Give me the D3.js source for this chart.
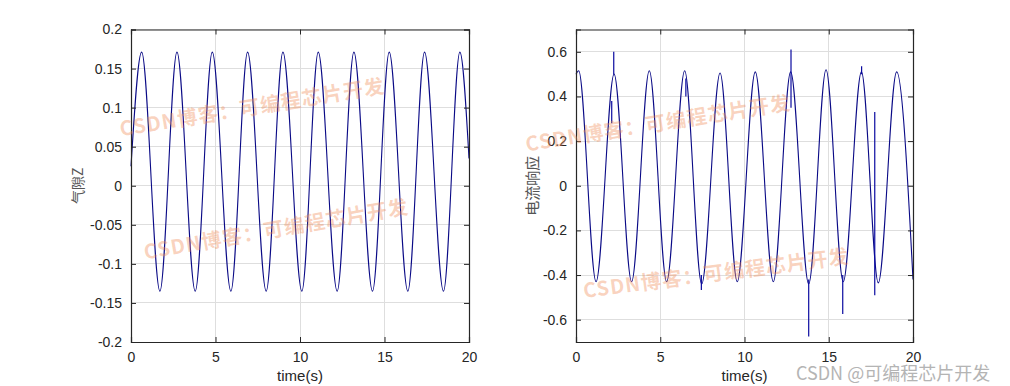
<!DOCTYPE html>
<html>
<head>
<meta charset="utf-8">
<script src="https://cdn.jsdelivr.net/npm/d3@7"></script>
<style>
  body{margin:0;background:#fff;}
  svg{display:block;font-family:"Liberation Sans",Arial,sans-serif;}
</style>
</head>
<body>
<div id="chart"></div>
<script>
// x axis (shared)
const xTicks = [0, 5, 10, 15, 20]

// left panel: 气隙Z, extrema (time s, value)
const gapT = [0, 0.63, 1.71, 2.72, 3.80, 4.81, 5.91, 6.90, 8.00, 8.99, 10.11, 11.08, 12.20, 13.19, 14.29, 15.28, 16.38, 17.37, 18.49, 19.46, 20]
const gapV = [0.025, 0.171, -0.135, 0.171, -0.135, 0.171, -0.135, 0.171, -0.135, 0.171, -0.135, 0.171, -0.135, 0.171, -0.135, 0.171, -0.135, 0.171, -0.135, 0.171, 0.035]
const gapTicks = [-0.2, -0.15, -0.1, -0.05, 0, 0.05, 0.1, 0.15, 0.2]

// right panel: 电流响应
const curT = [0, 0.16, 1.19, 2.26, 3.30, 4.35, 5.38, 6.45, 7.46, 8.55, 9.57, 10.64, 11.71, 12.74, 13.81, 14.84, 15.86, 16.94, 17.94, 19.03, 20]
const curV = [0.50, 0.515, -0.43, 0.50, -0.43, 0.515, -0.43, 0.515, -0.44, 0.505, -0.43, 0.51, -0.43, 0.51, -0.44, 0.52, -0.43, 0.51, -0.435, 0.51, -0.42]
const curTicks = [-0.6, -0.4, -0.2, 0, 0.2, 0.4, 0.6]
// spikes on the current signal
const spikeT = [2.24, 2.12, 6.52, 7.44, 12.76, 13.81, 15.83, 16.95, 17.73]
const spikeLo = [0.50, 0.28, 0.40, -0.467, 0.35, -0.675, -0.575, 0.50, -0.49]
const spikeHi = [0.60, 0.38, 0.48, -0.40, 0.61, -0.42, -0.40, 0.535, 0.33]

const W = 1010, H = 386
const svg = d3.select("#chart").append("svg").attr("width", W).attr("height", H)

function drawPanel(o){
  const x = d3.scaleLinear().domain([0, 20]).range([o.left, o.right])
  const y = d3.scaleLinear().domain(o.domain).range([o.bottom, o.top])
  const g = svg.append("g")

  // grid
  g.selectAll(".gx").data(xTicks).enter().append("line")
    .attr("x1", d => x(d)).attr("x2", d => x(d))
    .attr("y1", o.top).attr("y2", o.bottom)
    .attr("stroke", "#dedede").attr("stroke-width", 1).attr("shape-rendering", "crispEdges")
  g.selectAll(".gy").data(o.ticks).enter().append("line")
    .attr("x1", o.left).attr("x2", o.right)
    .attr("y1", d => y(d)).attr("y2", d => y(d))
    .attr("stroke", "#dedede").attr("stroke-width", 1).attr("shape-rendering", "crispEdges")

  // signal
  const line = d3.line().x(d => x(d[0])).y(d => y(d[1])).curve(d3.curveMonotoneX)
  const pts = o.t.map((t, i) => [t, o.v[i]])
  g.append("path").datum(pts).attr("d", line)
    .attr("fill", "none").attr("stroke", "#0a0a86").attr("stroke-width", 1.1)

  if(o.spikes){
    g.selectAll(".sp").data(o.spikes.t).enter().append("line")
      .attr("x1", d => x(d)).attr("x2", d => x(d))
      .attr("y1", (d, i) => y(o.spikes.lo[i])).attr("y2", (d, i) => y(o.spikes.hi[i]))
      .attr("stroke", "#0a0aa0").attr("stroke-width", 1.2)
  }

  // axes with inward ticks, MATLAB style box
  const axB = d3.axisBottom(x).tickValues(xTicks).tickSize(-5).tickPadding(10).tickFormat(d3.format("d"))
  const axT = d3.axisTop(x).tickValues(xTicks).tickSize(-5).tickFormat("")
  const axL = d3.axisLeft(y).tickValues(o.ticks).tickSize(-5).tickPadding(9).tickFormat(d => String(d))
  const axR = d3.axisRight(y).tickValues(o.ticks).tickSize(-5).tickFormat("")
  const styleAxis = sel => {
    sel.selectAll("path,line").attr("stroke", "#262626")
    sel.selectAll("text").attr("fill", "#262626").style("font-size", "14px")
  }
  g.append("g").attr("transform", `translate(0,${o.bottom})`).call(axB).call(styleAxis)
  g.append("g").attr("transform", `translate(0,${o.top})`).call(axT).call(styleAxis)
  g.append("g").attr("transform", `translate(${o.left},0)`).call(axL).call(styleAxis)
  g.append("g").attr("transform", `translate(${o.right},0)`).call(axR).call(styleAxis)
  g.selectAll(".domain").attr("stroke-width", 1.2)

  // labels
  g.append("text").attr("x", (o.left + o.right) / 2).attr("y", 381)
    .attr("text-anchor", "middle").attr("fill", "#262626").style("font-size", "15px")
    .text("time(s)")
  g.append("text").attr("transform", `translate(${o.ylabX},${(o.top + o.bottom) / 2}) rotate(-90)`)
    .attr("text-anchor", "middle").attr("fill", "#555")
    .style("font-family", "'Noto Sans CJK SC',sans-serif").style("font-size", o.ylabSize + "px")
    .text(o.ylabel)
}

drawPanel({left: 131, right: 469, top: 29.5, bottom: 342, domain: [-0.2, 0.2], ticks: gapTicks,
  t: gapT, v: gapV, ylabel: "气隙Z", ylabX: 83, ylabSize: 14})
drawPanel({left: 576, right: 913, top: 29.5, bottom: 342, domain: [-0.7, 0.7], ticks: curTicks,
  t: curT, v: curV, spikes: {t: spikeT, lo: spikeLo, hi: spikeHi}, ylabel: "电流响应", ylabX: 538, ylabSize: 15})

// watermarks
const marks = [[252, 106, -9.4], [276, 228, -9.9], [658, 122, -9], [716, 272, -7.5]]
svg.selectAll(".wm").data(marks).enter().append("text")
  .attr("transform", d => `translate(${d[0]},${d[1]}) rotate(${d[2]})`)
  .attr("text-anchor", "middle").attr("dominant-baseline", "central")
  .attr("fill", "#f08a55").attr("fill-opacity", 0.38)
  .style("font-family", "'Noto Sans CJK SC',sans-serif").style("font-weight", "bold")
  .style("font-size", "20px").style("letter-spacing", "1px")
  .text("CSDN博客：可编程芯片开发")

svg.append("text").attr("x", 796).attr("y", 380)
  .attr("fill", "#b4b4b4").style("font-family", "'Noto Sans CJK SC',sans-serif").style("font-size", "18px")
  .text("CSDN @可编程芯片开发")
</script>
</body>
</html>
